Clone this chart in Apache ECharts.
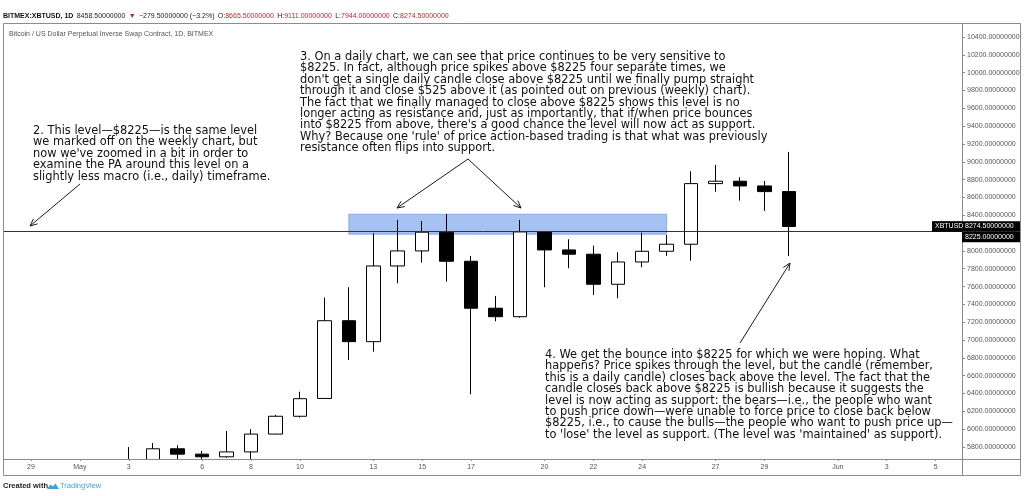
<!DOCTYPE html>
<html>
<head>
<meta charset="utf-8">
<title>XBTUSD 1D</title>
<script src="https://cdn.jsdelivr.net/npm/echarts@6/dist/echarts.min.js"></script>
<style>
  html, body { margin: 0; padding: 0; background: #fff; }
  #chart { width: 1024px; height: 496px; }
</style>
</head>
<body>
<div id="chart"></div>
<script>
// daily candles, BITMEX:XBTUSD
const dates = ['2019-05-03', '2019-05-04', '2019-05-05', '2019-05-06', '2019-05-07', '2019-05-08', '2019-05-09',
  '2019-05-10', '2019-05-11', '2019-05-12', '2019-05-13', '2019-05-14', '2019-05-15', '2019-05-16', '2019-05-17',
  '2019-05-18', '2019-05-19', '2019-05-20', '2019-05-21', '2019-05-22', '2019-05-23', '2019-05-24', '2019-05-25',
  '2019-05-26', '2019-05-27', '2019-05-28', '2019-05-29', '2019-05-30'];
const opens = [5380, 5640, 5780, 5720, 5690, 5745, 5945, 6145, 6345, 7217, 6982, 7831, 8000, 8210,
  7884, 7357, 7262, 8213, 8011, 7963, 7626, 7876, 7996, 8075, 8755, 8782, 8729, 8665.5];
const closes = [5640, 5780, 5720, 5690, 5745, 5945, 6145, 6342, 7217, 6982, 7831, 8000, 8210, 7884,
  7357, 7262, 8213, 8011, 7963, 7626, 7876, 7996, 8075, 8755, 8782, 8729, 8665.5, 8274.5];
const lows = [5350, 5500, 5600, 5580, 5680, 5620, 5940, 6130, 6340, 6776, 6870, 7637, 7869, 7655,
  6391, 7211, 7250, 7592, 7806, 7506, 7469, 7817, 7944, 7891, 8665, 8564, 8449, 7944];
const highs = [5800, 5845, 5820, 5755, 5980, 6000, 6160, 6420, 7476, 7592, 8198, 8348, 8336, 8415,
  7944, 7495, 8348, 8220, 8131, 8059, 7985, 8205, 8179, 8894, 8965, 8827, 8785, 9111];

// x axis ticks
const tickDates = ['2019-04-29', '2019-05-01', '2019-05-03', '2019-05-06', '2019-05-08', '2019-05-10',
  '2019-05-13', '2019-05-15', '2019-05-17', '2019-05-20', '2019-05-22', '2019-05-24', '2019-05-27',
  '2019-05-29', '2019-06-01', '2019-06-03', '2019-06-05'];
const tickLabels = ['29', 'May', '3', '6', '8', '10', '13', '15', '17', '20', '22', '24', '27', '29', 'Jun', '3', '5'];
// y axis ticks
const priceTicks = [5800, 6000, 6200, 6400, 6600, 6800, 7000, 7200, 7400, 7600, 7800, 8000, 8200,
  8400, 8600, 8800, 9000, 9200, 9400, 9600, 9800, 10000, 10200, 10400];

const levelPrice = 8225;
const lastPrice = 8274.5;
const zoneFrom = '2019-05-12', zoneTo = '2019-05-25';
const zoneLow = 8187, zoneHigh = 8412;

const FONT_NOTE = '11.4px "DejaVu Sans"';
const FONT_SMALL = '"Liberation Sans", Arial, sans-serif';

// days since Apr 29
function dayNum(s) {
  const p = s.split('-').map(Number);
  return (Date.UTC(p[0], p[1] - 1, p[2]) - Date.UTC(2019, 3, 29)) / 86400000;
}
const tickDays = tickDates.map(dayNum);
const candles = dates.map((d, i) => [dayNum(d), opens[i], closes[i], lows[i], highs[i]]);

const chart = echarts.init(document.getElementById('chart'));

const option = {
  animation: false,
  backgroundColor: '#fff',
  grid: { left: 3, right: 62, top: 24, bottom: 37, show: false },
  xAxis: {
    type: 'value',
    z: 10,
    min: -1.145,
    max: 38.08,
    splitLine: { show: false },
    axisLine: { show: false, onZero: false },
    axisTick: { show: true, customValues: tickDays, length: 2, lineStyle: { color: '#888' } },
    axisLabel: {
      customValues: tickDays,
      margin: 5,
      fontSize: 7,
      fontFamily: FONT_SMALL,
      color: '#555',
      formatter: v => tickLabels[tickDays.indexOf(v)] || ''
    }
  },
  yAxis: {
    type: 'value',
    position: 'right',
    min: 5665.4,
    max: 10545.9,
    splitLine: { show: false },
    axisLine: { show: false, onZero: false },
    axisTick: { show: true, customValues: priceTicks, length: 3, lineStyle: { color: '#888' } },
    axisLabel: {
      customValues: priceTicks,
      margin: 5,
      fontSize: 7,
      fontFamily: FONT_SMALL,
      color: '#555',
      formatter: v => v.toFixed(8)
    }
  },
  series: [
    {
      // blue resistance/support zone
      type: 'line',
      z: 1,
      data: [],
      markArea: {
        silent: true,
        itemStyle: { color: 'rgba(77,134,232,0.5)', borderColor: 'rgba(77,134,232,0.55)', borderWidth: 1 },
        data: [[{ xAxis: dayNum(zoneFrom), yAxis: zoneHigh }, { xAxis: dayNum(zoneTo), yAxis: zoneLow }]]
      }
    },
    {
      // $8225 level
      type: 'line',
      z: 2,
      data: [],
      markLine: {
        silent: true,
        symbol: 'none',
        label: { show: false },
        lineStyle: { color: '#333', width: 1, type: 'solid' },
        data: [{ yAxis: levelPrice }]
      }
    },
    {
      type: 'candlestick',
      z: 3,
      barWidth: 14,
      dimensions: ['day', 'open', 'close', 'lowest', 'highest'],
      encode: { x: 'day', y: ['open', 'close', 'lowest', 'highest'] },
      data: candles,
      itemStyle: {
        color: '#fff',
        color0: '#000',
        borderColor: '#000',
        borderColor0: '#000',
        borderWidth: 1
      }
    }
  ]
};
chart.setOption(option);

function arrow(x1, y1, x2, y2) { // head at x2,y2
  const a = Math.atan2(y2 - y1, x2 - x1), h = 8, s = 0.42;
  return {
    type: 'group',
    children: [
      { type: 'line', shape: { x1, y1, x2, y2 }, style: { stroke: '#1a1a1a', lineWidth: 1 } },
      {
        type: 'polyline',
        shape: { points: [[x2 - h * Math.cos(a - s), y2 - h * Math.sin(a - s)], [x2, y2],
          [x2 - h * Math.cos(a + s), y2 - h * Math.sin(a + s)]] },
        style: { stroke: '#1a1a1a', fill: null, lineWidth: 1 }
      }
    ]
  };
}

function note(x, y, lines) {
  return {
    type: 'text', x, y, z: 50,
    style: { text: lines.join('\n'), font: FONT_NOTE, lineHeight: 11.4, fill: '#111', align: 'left', verticalAlign: 'top' }
  };
}

function tag(x, yc, w, text) {
  return {
    type: 'group', z: 100,
    children: [
      { type: 'rect', z: 100, shape: { x: x, y: yc - 5.3, width: w, height: 10.6 }, style: { fill: '#000' } },
      { type: 'text', z: 101, x: x + 3, y: yc, style: { text, fill: '#fff', font: '7px ' + FONT_SMALL, verticalAlign: 'middle' } }
    ]
  };
}

const yLast = chart.convertToPixel({ yAxisIndex: 0 }, lastPrice);
const frameStyle = { stroke: '#8c8c8c', lineWidth: 1 };

chart.setOption({
  graphic: [
    // hide candle parts that fall below the price scale
    { type: 'rect', z: 5, shape: { x: 0, y: 460, width: 962, height: 36 }, style: { fill: '#fff' } },
    // frame
    { type: 'rect', z: 20, shape: { x: 3.5, y: 23.5, width: 1017, height: 452 }, style: Object.assign({ fill: null }, frameStyle) },
    { type: 'line', z: 20, shape: { x1: 962.5, y1: 23.5, x2: 962.5, y2: 475.5 }, style: frameStyle },
    { type: 'line', z: 20, shape: { x1: 3.5, y1: 459.5, x2: 1020.5, y2: 459.5 }, style: frameStyle },
    // header
    {
      type: 'text', z: 20, x: 3, y: 16,
      style: {
        text: '{b|BITMEX:XBTUSD, 1D} {n|8458.50000000} {r|▼} {n|\u2212279.50000000 (\u22123.2%)} {n|O:}{r|8665.50000000} {n|H:}{r|9111.00000000} {n|L:}{r|7944.00000000} {n|C:}{r|8274.50000000}',
        verticalAlign: 'middle',
        rich: {
          b: { font: 'bold 7px ' + FONT_SMALL, fill: '#111' },
          n: { font: '7px ' + FONT_SMALL, fill: '#222' },
          r: { font: '7px ' + FONT_SMALL, fill: '#c4262e' }
        }
      }
    },
    {
      type: 'text', z: 20, x: 9, y: 34.5,
      style: { text: 'Bitcoin / US Dollar Perpetual Inverse Swap Contract, 1D, BITMEX', font: '7px ' + FONT_SMALL, fill: '#555', verticalAlign: 'middle' }
    },
    // footer
    {
      type: 'text', z: 20, x: 3, y: 486,
      style: { text: 'Created with', font: 'bold 7.5px ' + FONT_SMALL, fill: '#222', verticalAlign: 'middle' }
    },
    {
      type: 'polygon', z: 20,
      shape: { points: [[47, 489], [50.5, 484.5], [53, 486.5], [55.5, 483.5], [59, 489]] },
      style: { fill: '#39a5dc' }
    },
    {
      type: 'text', z: 20, x: 60, y: 486,
      style: { text: 'TradingView', font: '7.5px ' + FONT_SMALL, fill: '#39a5dc', verticalAlign: 'middle' }
    },
    // annotations
    note(33, 125.3, [
      '2. This level\u2014$8225\u2014is the same level',
      'we marked off on the weekly chart, but',
      "now we've zoomed in a bit in order to",
      'examine the PA around this level on a',
      'slightly less macro (i.e., daily) timeframe.'
    ]),
    note(300, 51.3, [
      '3. On a daily chart, we can see that price continues to be very sensitive to',
      '$8225. In fact, although price spikes above $8225 four separate times, we',
      "don't get a single daily candle close above $8225 until we finally pump straight",
      'through it and close $525 above it (as pointed out on previous (weekly) chart).',
      'The fact that we finally managed to close above $8225 shows this level is no',
      'longer acting as resistance and, just as importantly, that if/when price bounces',
      "into $8225 from above, there's a good chance the level will now act as support.",
      "Why? Because one 'rule' of price action-based trading is that what was previously",
      'resistance often flips into support.'
    ]),
    note(545, 349.3, [
      '4. We get the bounce into $8225 for which we were hoping. What',
      'happens? Price spikes through the level, but the candle (remember,',
      'this is a daily candle) closes back above the level. The fact that the',
      'candle closes back above $8225 is bullish because it suggests the',
      'level is now acting as support: the bears\u2014i.e., the people who want',
      'to push price down\u2014were unable to force price to close back below',
      '$8225, i.e., to cause the bulls\u2014the people who want to push price up\u2014',
      "to 'lose' the level as support. (The level was 'maintained' as support)."
    ]),
    arrow(80, 184, 30, 226),
    arrow(468, 159, 397, 208),
    arrow(468, 159, 521, 208),
    arrow(740, 343, 790, 263),
    // price tags on the right axis
    tag(932, yLast, 30, 'XBTUSD'),
    tag(962, yLast, 58, lastPrice.toFixed(8)),
    tag(962, yLast + 10.6, 58, levelPrice.toFixed(8))
  ]
});

window.addEventListener('resize', function () {
  chart.resize();
});
</script>
</body>
</html>
